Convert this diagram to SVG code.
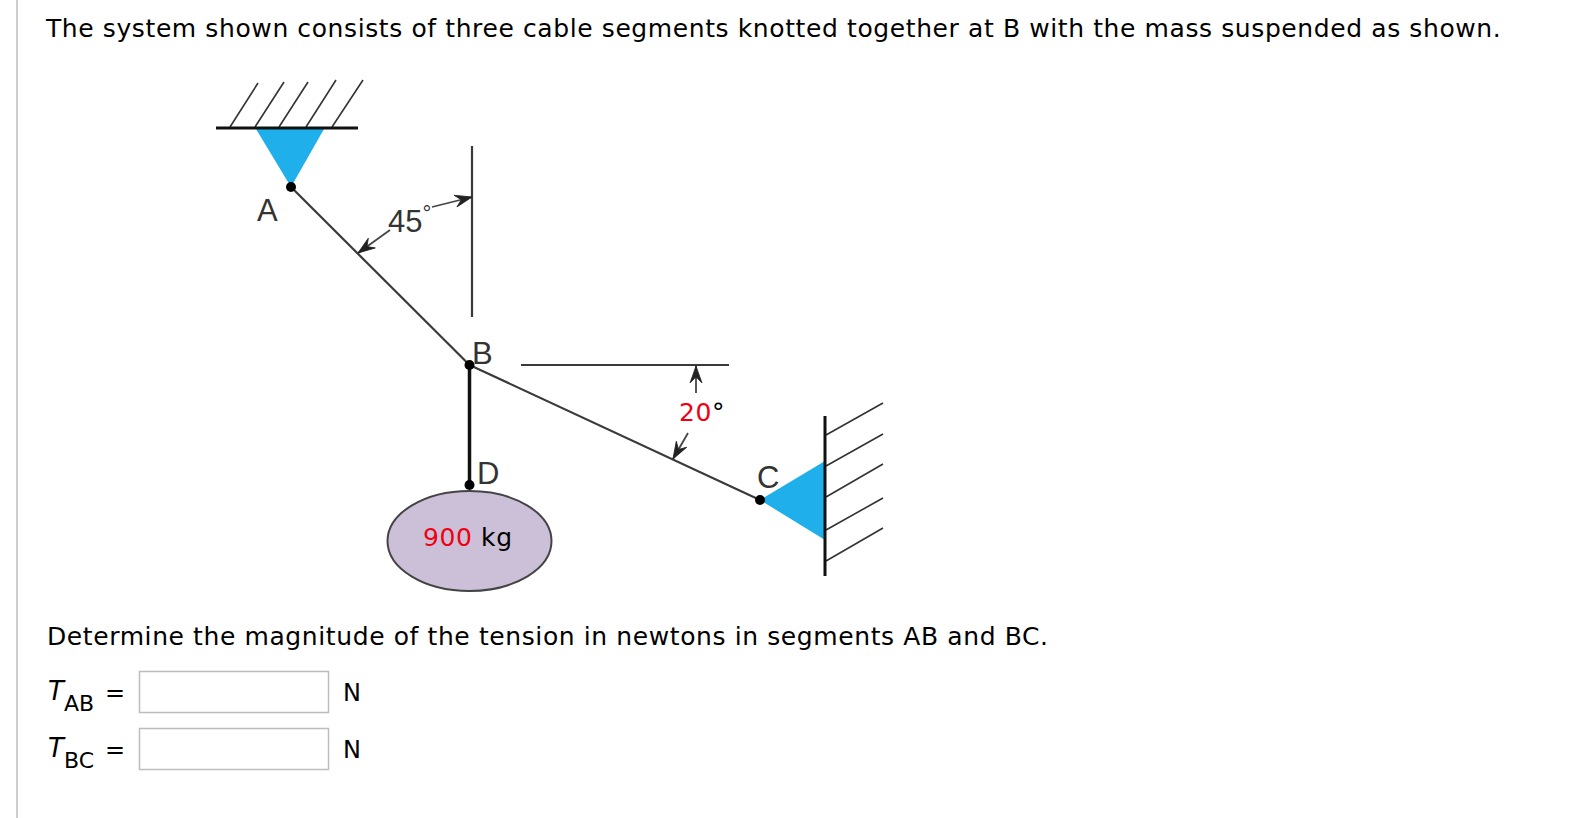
<svg xmlns="http://www.w3.org/2000/svg" width="1582" height="818" viewBox="0 0 1582 818">
<style>
.t{font-family:"DejaVu Sans",Verdana,sans-serif;font-size:25px;letter-spacing:0.6px;fill:#000}
.n{font-family:"DejaVu Sans",Verdana,sans-serif;font-size:24px;fill:#000}
.l{font-family:"Liberation Sans",Arial,sans-serif;font-size:31px;fill:#333}
.r{fill:#f00012}
.h{stroke:#333;stroke-width:1.6;fill:none}
.c{stroke:#3a3a3a;stroke-width:2.2;fill:none}
.k{stroke:#111;fill:none}
.d{stroke:#444;stroke-width:1.8;fill:none;marker-end:url(#ah)}
.i{fill:#fff;stroke:#bdbdbd;stroke-width:1.5}
.p{fill:#1fb0ec}
</style>
<defs>
<marker id="ah" markerUnits="userSpaceOnUse" markerWidth="24" markerHeight="18" refX="20" refY="9" orient="auto">
<path d="M20,9 L3,3 L9,9 L3,15 Z" fill="#222" stroke="#222" stroke-width="0.8"/>
</marker>
</defs>
<rect width="1582" height="818" fill="#fff"/>
<rect x="16" y="0" width="2" height="818" fill="#cdcdcd"/>
<text class="t" x="46" y="37" id="title">The system shown consists of three cable segments knotted together at B with the mass suspended as shown.</text>
<g id="connectors">
<path class="c" d="M291,187 L469.5,365"/>
<path class="c" d="M469.5,365 L760,500"/>
<path class="k" stroke-width="3.5" d="M469.5,365 V485"/>
<path class="c" d="M472,146 V317"/>
<path class="c" d="M521,365 H729"/>
<path class="d" d="M390,230 L358,253"/>
<path class="d" d="M432,207 L472,197"/>
<path class="d" d="M696,393 V366"/>
<path class="d" d="M688,433 L673,459"/>
</g>
<g id="support-a">
<path class="p" d="M256,129 H324 L291,187 Z"/>
<path class="h" d="M230,127 L258,83 M255,127 L284,82 M279,127 L308,82 M306,127 L336,80 M332,127 L363,80"/>
<path class="k" stroke-width="3" d="M216,128 H358"/>
<circle cx="291" cy="187" r="5" fill="#000"/>
<text class="l" x="257" y="221">A</text>
</g>
<g id="support-c">
<path class="p" d="M760,500 L825,461 V540 Z"/>
<path class="h" d="M826,435 L883,403 M826,466 L883,434 M826,497 L883,464 M826,530 L883,498 M826,561 L883,528"/>
<path class="k" stroke-width="3" d="M825,416 V576"/>
<circle cx="760" cy="500" r="5" fill="#000"/>
<text class="l" x="757" y="488">C</text>
</g>
<g id="node-b">
<circle cx="469.5" cy="365" r="5" fill="#000"/>
<text class="l" x="472" y="364">B</text>
</g>
<g id="node-d">
<circle cx="469.5" cy="485" r="5" fill="#000"/>
<text class="l" x="477" y="484">D</text>
</g>
<g id="mass">
<ellipse cx="469.5" cy="541" rx="82" ry="50" fill="#cbc0d8" stroke="#444" stroke-width="2"/>
<text class="t" x="423" y="546"><tspan class="r">900</tspan> kg</text>
</g>
<text class="l" x="388" y="232" font-size="30">45<tspan font-size="22" dy="-11">°</tspan></text>
<text class="t" x="679" y="421"><tspan class="r">20</tspan>°</text>
<text class="t" x="47" y="645">Determine the magnitude of the tension in newtons in segments AB and BC.</text>
<g id="row-ab">
<text x="48" y="700" font-family="DejaVu Sans" font-style="italic" font-size="26">T</text>
<text x="64" y="711" font-family="DejaVu Sans" font-size="22">AB</text>
<text class="n" x="105" y="700.5">=</text>
<rect class="i" x="139.5" y="671.5" width="189" height="41"/>
<text class="n" x="343" y="700.5">N</text>
</g>
<g id="row-bc">
<text x="48" y="757" font-family="DejaVu Sans" font-style="italic" font-size="26">T</text>
<text x="64" y="768" font-family="DejaVu Sans" font-size="22">BC</text>
<text class="n" x="105" y="757.5">=</text>
<rect class="i" x="139.5" y="728.5" width="189" height="41"/>
<text class="n" x="343" y="757.5">N</text>
</g>
</svg>
